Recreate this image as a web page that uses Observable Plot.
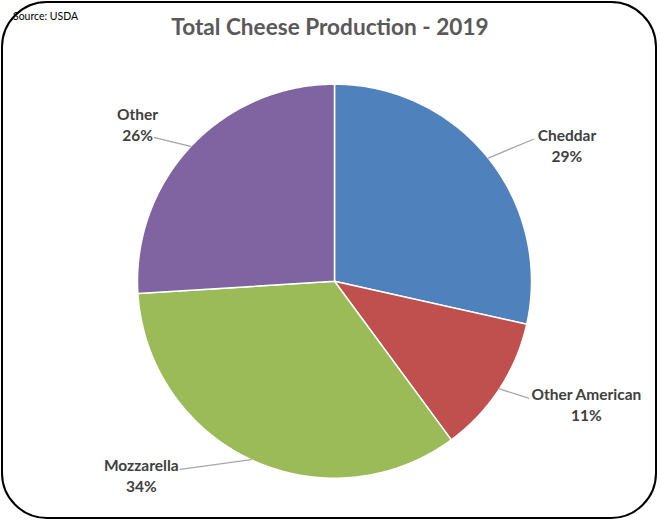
<!DOCTYPE html>
<html>
<head>
<meta charset="utf-8">
<script src="https://cdn.jsdelivr.net/npm/d3@7"></script>
<script src="https://cdn.jsdelivr.net/npm/@observablehq/plot@0.6"></script>
<style>
  html, body { margin: 0; padding: 0; background: #fff; }
  #frame { position: relative; width: 660px; height: 522px; overflow: hidden; background: #fff; font-family: Lato, "Open Sans", sans-serif; }
  #border { position: absolute; left: 1px; top: 1px; width: 656px; height: 518px; box-sizing: border-box; border: 2px solid #000; border-radius: 46px; pointer-events: none; }
  #source { position: absolute; left: 13px; top: 11px; font-size: 10.5px; line-height: 11px; color: #000; }
  #title { height: 52px; box-sizing: border-box; padding-top: 14.5px; text-align: center; font-size: 22.6px; line-height: 23px; font-weight: 700; color: #595959; }
  #chart svg { display: block; }
</style>
</head>
<body>
<div id="frame">
  <div id="title">Total Cheese Production - 2019</div>
  <div id="chart"></div>
  <div id="source">Source: USDA</div>
  <div id="border"></div>
</div>
<script>
// ---- data ----
const categories = ["Cheddar", "Other American", "Mozzarella", "Other"];
const shares = [28.5, 11.4, 34.1, 26.0]; // percent of total cheese production
const colors = ["#4F81BD", "#C0504D", "#9BBB59", "#8064A2"];

// ---- label layout (polar: angle in degrees clockwise from 12 o'clock, radius in pie radii) ----
const labelAngle = [59.6, 116.0, 225.0, 308.7];
const labelRadius = [1.368, 1.423, 1.387, 1.281];
const leaderEndAngle = [54.5, 121.1, 219.3, 308.6];
const leaderEndRadius = [1.241, 1.150, 1.235, 1.169];

// ---- geometry ----
const W = 660, H = 470;
const cx = 334, cy = 228.7, R = 197;

const total = d3.sum(shares);
const slices = [];
let acc = 0;
categories.forEach((name, i) => {
  const a0 = acc / total * 360;
  acc += shares[i];
  const a1 = acc / total * 360;
  slices.push({name, value: shares[i], a0, a1, mid: (a0 + a1) / 2, i});
});

const polar = (deg, r) => {
  const t = deg * Math.PI / 180;
  return {x: r * Math.sin(t), y: r * Math.cos(t)};
};

// polygon points of each wedge (center, arc, center)
const wedgePts = [];
for (const s of slices) {
  wedgePts.push({name: s.name, ...polar(0, 0)});
  const n = Math.max(2, Math.ceil((s.a1 - s.a0) / 0.5));
  for (let k = 0; k <= n; k++) {
    const a = s.a0 + (s.a1 - s.a0) * k / n;
    wedgePts.push({name: s.name, ...polar(a, 1)});
  }
  wedgePts.push({name: s.name, ...polar(0, 0)});
}

const leaderPts = [];
for (const s of slices) {
  leaderPts.push({name: s.name, ...polar(s.mid, 1)});
  leaderPts.push({name: s.name, ...polar(leaderEndAngle[s.i], leaderEndRadius[s.i])});
}

const labels = slices.map(s => ({
  text: `${s.name}\n${Math.round(s.value)}%`,
  ...polar(labelAngle[s.i], labelRadius[s.i])
}));

const chart = Plot.plot({
  width: W,
  height: H,
  margin: 0,
  x: {type: "linear", domain: [-1, 1], range: [cx - R, cx + R], axis: null},
  y: {type: "linear", domain: [-1, 1], range: [cy + R, cy - R], axis: null},
  color: {domain: categories, range: colors},
  style: {background: "transparent", overflow: "visible"},
  marks: [
    Plot.line(wedgePts, {x: "x", y: "y", z: "name", fill: "name", stroke: "#fff", strokeWidth: 1.5, strokeLinejoin: "round"}),
    Plot.line(leaderPts, {x: "x", y: "y", z: "name", stroke: "#A6A6A6", strokeWidth: 1.3}),
    Plot.text(labels, {
      x: "x", y: "y", text: "text",
      textAnchor: "middle", lineAnchor: "middle", lineHeight: 1.36,
      fontFamily: "Lato, 'Open Sans', sans-serif", fontWeight: 700, fontSize: 15.5,
      fill: "#404040"
    })
  ]
});
document.getElementById("chart").appendChild(chart);
</script>
</body>
</html>
